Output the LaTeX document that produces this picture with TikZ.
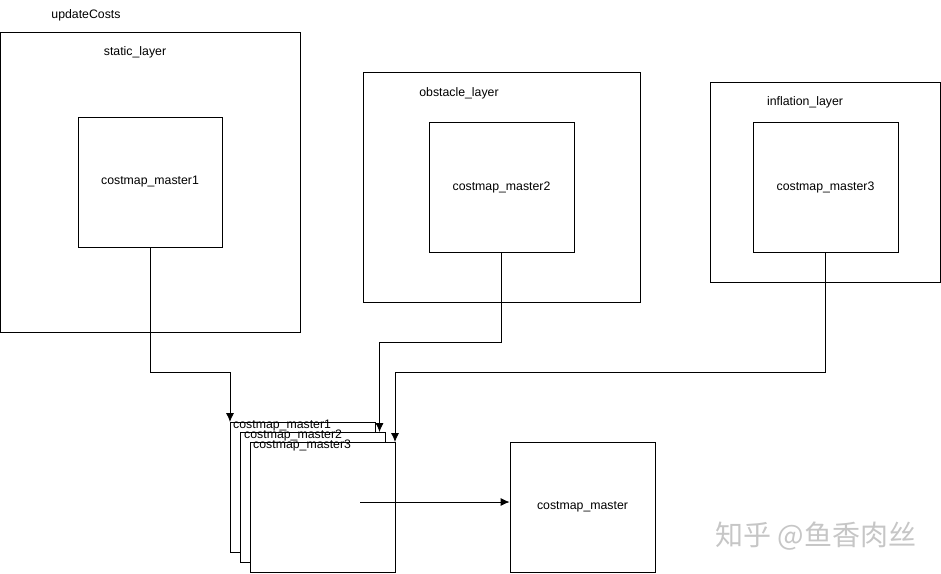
\documentclass[tikz,border=0pt]{standalone}
\usepackage{fontspec}
\setmainfont{Liberation Sans}
\newfontfamily\cjk{Noto Sans CJK SC}
\usetikzlibrary{arrows.meta}
\begin{document}
\begin{tikzpicture}[x=1pt, y=-1pt, font=\fontsize{12.3}{13}\selectfont,
    box/.style={draw, fill=white, line width=0.8pt},
    lbl/.style={inner sep=0pt},
    conn/.style={-{Latex[length=9pt,width=8pt]}, line width=0.8pt}]
      \useasboundingbox (0,0) rectangle (941,573);
      % Layers
      \draw[box] (0,32) rectangle (300,332);
      \draw[box] (363,72) rectangle (640,302);
      \draw[box] (710,82) rectangle (940,282);
      \node[lbl] (updateCosts) at (86,15) {updateCosts};
      \node[lbl] (static) at (135,52) {static\_layer};
      \node[lbl] (obstacle) at (459,93) {obstacle\_layer};
      \node[lbl] (inflation) at (805,102) {inflation\_layer};
      
      % Masters inside the layers
      \node[box, minimum width=144pt, minimum height=130pt] (M1) at (150,182) {costmap\_master1};
      \node[box, minimum width=145pt, minimum height=130pt] (M2) at (501.5,187) {costmap\_master2};
      \node[box, minimum width=145pt, minimum height=130pt] (M3) at (825.5,187) {costmap\_master3};
      
      % Stack of copies
      \node[box, minimum width=145pt, minimum height=130pt] (S1) at (302.5,487) {};
      \node[box, minimum width=145pt, minimum height=130pt] (S2) at (312.5,497) {};
      \node[box, minimum width=145pt, minimum height=130pt] (S3) at (322.5,507) {};
      \node[lbl, anchor=north west] at (233,420) {costmap\_master1};
      \node[lbl, anchor=north west] at (244,430) {costmap\_master2};
      \node[lbl, anchor=north west] at (253,440) {costmap\_master3};
      \draw[line width=0.8pt] (240,432) -- (385,432);
      \draw[line width=0.8pt] (250,442) -- (395,442);
      \node[box, minimum width=145pt, minimum height=130pt] (M) at (582.5,507) {costmap\_master};
      \coordinate (mid) at (360,502);
      
      % Arrows
      \draw[conn] (M1.south) -- ++(0,125) -| (230,422);
      \draw[conn] (M2.south) -- ++(0,90) -| (379.5,432);
      \draw[conn] (M3.south) -- ++(0,120) -| (395,442);
      \draw[conn] (mid) -- (mid -| M.west);
      
      \node[lbl, text=gray!45, font=\cjk\fontsize{28}{30}\selectfont] (mark) at (816,536) {知乎 @鱼香肉丝};
\end{tikzpicture}
\end{document}
